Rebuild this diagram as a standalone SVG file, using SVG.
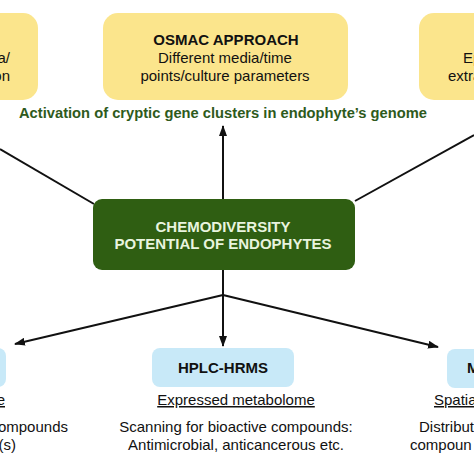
<svg xmlns="http://www.w3.org/2000/svg" width="474" height="474" viewBox="0 0 474 474">
<style>
.y{fill:#fbe58c}
.b{fill:#c8e9f8}
.t{font-family:"Liberation Sans",Arial,sans-serif;font-size:15px;fill:#111}
.tb{font-family:"Liberation Sans",Arial,sans-serif;font-size:15px;font-weight:bold;fill:#111}
.c{text-anchor:middle}
.e{text-anchor:end}
.ln{stroke:#111;stroke-width:2;fill:none}
</style>
<defs>
<marker id="ah" markerWidth="11" markerHeight="8" refX="10" refY="4" orient="auto" markerUnits="userSpaceOnUse">
<path d="M0,0 L11,4 L0,8 Z" fill="#111"/>
</marker>
</defs>
<rect width="474" height="474" fill="#fff"/>
<g id="connectors">
<line class="ln" x1="223" y1="199" x2="223" y2="126" marker-end="url(#ah)"/>
<line class="ln" x1="0" y1="149" x2="94" y2="204"/>
<line class="ln" x1="355" y1="201" x2="474" y2="135"/>
<line class="ln" x1="223" y1="270" x2="223" y2="295"/>
<line class="ln" x1="223" y1="295" x2="223" y2="346" marker-end="url(#ah)"/>
<line class="ln" x1="223" y1="295" x2="15" y2="344" marker-end="url(#ah)"/>
<line class="ln" x1="223" y1="295" x2="438" y2="347" marker-end="url(#ah)"/>
</g>
<g id="node-top-left">
<rect class="y" x="-40" y="13" width="78" height="87" rx="15"/>
<text class="t e" x="10" y="63">a/</text>
<text class="t e" x="10" y="81">on</text>
</g>
<g id="node-osmac">
<rect class="y" x="103" y="13" width="245" height="87" rx="15"/>
<text class="tb c" x="226" y="45">OSMAC APPROACH</text>
<text class="t c" x="225" y="63">Different media/time</text>
<text class="t c" x="225" y="81">points/culture parameters</text>
</g>
<g id="node-top-right">
<rect class="y" x="419" y="13" width="100" height="87" rx="15"/>
<text class="t" x="463" y="63">Ep</text>
<text class="t" x="448" y="81">extra</text>
</g>
<g id="label-activation">
<text x="19" y="118" textLength="408" lengthAdjust="spacingAndGlyphs" font-family="Liberation Sans, Arial, sans-serif" font-size="14.5" font-weight="bold" fill="#2e5a1c">Activation of cryptic gene clusters in endophyte’s genome</text>
</g>
<g id="node-center">
<rect x="93" y="199" width="262" height="71" rx="9" fill="#2f5e12"/>
<text class="tb c" x="223" y="232" style="fill:#e8f4de">CHEMODIVERSITY</text>
<text class="tb c" x="223" y="249" style="fill:#e8f4de">POTENTIAL OF ENDOPHYTES</text>
</g>
<g id="node-bottom-left">
<rect class="b" x="-60" y="348" width="66" height="39" rx="8"/>
<text class="t e" x="5" y="405" text-decoration="underline">e</text>
<text class="t e" x="68" y="432">compounds</text>
<text class="t e" x="16" y="450">(s)</text>
</g>
<g id="node-hplc">
<rect class="b" x="152" y="348" width="142" height="39" rx="8"/>
<text class="tb c" x="223" y="373">HPLC-HRMS</text>
<text class="t c" x="236" y="405" text-decoration="underline">Expressed metabolome</text>
<text class="t c" x="236" y="432">Scanning for bioactive compounds:</text>
<text class="t c" x="236" y="450">Antimicrobial, anticancerous etc.</text>
</g>
<g id="node-bottom-right">
<rect class="b" x="447" y="349" width="80" height="39" rx="8"/>
<text class="tb" x="467" y="373">M</text>
<text class="t" x="434" y="405" text-decoration="underline">Spatial</text>
<text class="t" x="419" y="432">Distribut</text>
<text class="t" x="410" y="450">compoun</text>
</g>
</svg>
